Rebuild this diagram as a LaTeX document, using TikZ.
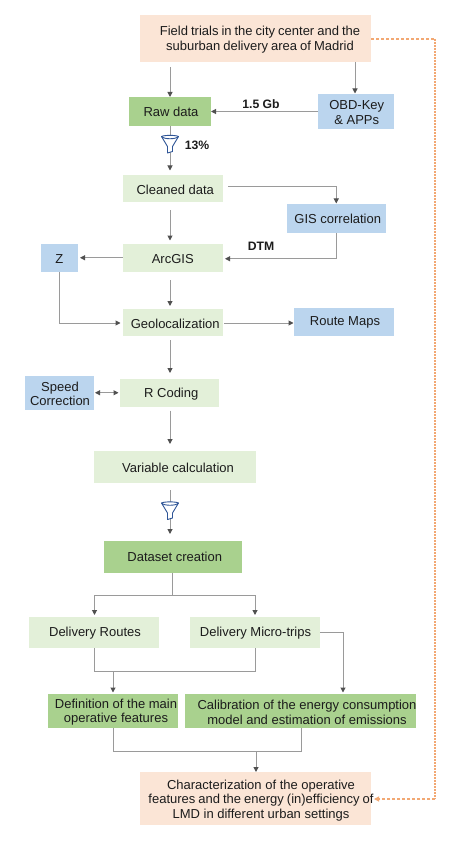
\documentclass[tikz,border=0pt]{standalone}
\usepackage{fontspec}
\setmainfont{Liberation Sans}
\usetikzlibrary{arrows.meta}
\definecolor{peach}{HTML}{FBE5D6}
\definecolor{skyb}{HTML}{BBD5EE}
\definecolor{darkg}{HTML}{A9D18E}
\definecolor{lightg}{HTML}{E3F0D9}
\definecolor{linec}{HTML}{9A9A9A}
\definecolor{tipc}{HTML}{505050}
\definecolor{txtc}{HTML}{1C1C1C}
\definecolor{orangel}{HTML}{F2A873}
\definecolor{funnelc}{HTML}{2F5597}
\tikzset{
 x=1pt,y=-1pt,
 base/.style={draw=none,inner sep=0pt,outer sep=0pt,text=txtc},
 sz/.style 2 args={minimum width=#1pt,minimum height=#2pt},
 txt/.style 2 args={label={[align=center,text=txtc,font=\fontsize{13}{14.4}\selectfont,inner sep=0pt,#1]center:{#2}}},
 pch/.style={base,fill=peach},
 blu/.style={base,fill=skyb},
 dgr/.style={base,fill=darkg},
 lgr/.style={base,fill=lightg},
 wire/.style={draw=linec,line width=1pt},
 arr/.style={wire,-{Triangle[length=5pt,width=5pt,color=tipc]}},
 dblarr/.style={wire,{Triangle[length=5pt,width=5pt,color=tipc]}-{Triangle[length=5pt,width=5pt,color=tipc]}},
 hdash/.style={draw=orangel,line width=1.1pt,dash pattern=on 3pt off 2pt},
 vdash/.style={draw=orangel,line width=1.4pt,dash pattern=on 2pt off 1pt},
 tag/.style={inner sep=0pt,text=txtc,font=\fontsize{12.2}{14}\selectfont\bfseries},
 funnelshape/.pic={
  \draw[funnelc,line width=0.9pt,line join=round,fill=white]
    (-8.5,-8) .. controls (-6,-9.5) and (6,-9.5) .. (8.5,-8) -- (2.5,2) -- (2.5,7) -- (-2.5,8.5) -- (-2.5,2) -- cycle;
  \draw[funnelc,line width=0.9pt] (-8.5,-8) .. controls (-6,-5) and (6,-5) .. (8.5,-8);
 }
}
\begin{document}
\begin{tikzpicture}
\useasboundingbox (0,0) rectangle (474,842);
\fill[white] (0,0) rectangle (474,842);
% boxes
\node[pch,sz={231}{47},txt={xshift=4.5pt,yshift=-1pt}{\spaceskip=3pt Field trials in the city center and the\\\spaceskip=3pt suburban delivery area of Madrid}] (field) at (255.5,38.5) {};
\node[dgr,sz={82}{29},txt={xshift=1pt,yshift=0pt}{Raw data}] (raw) at (170,111.5) {};
\node[blu,sz={75.5}{35},txt={xshift=1pt,yshift=-1pt}{OBD-Key\\\& APPs}] (obd) at (355.75,111.5) {};
\node[lgr,sz={100.5}{27},txt={xshift=2.5pt,yshift=-1pt}{Cleaned data}] (cleaned) at (172.75,189) {};
\node[blu,sz={99.5}{28.5},txt={xshift=1.5pt,yshift=-0.5pt}{GIS correlation}] (gis) at (336.25,218.75) {};
\node[blu,sz={37.5}{28.5},txt={yshift=-1pt}{Z}] (z) at (59.25,257.75) {};
\node[lgr,sz={100.5}{28.5},txt={yshift=-1pt}{ArcGIS}] (arc) at (172.75,257.75) {};
\node[lgr,sz={100.5}{27},txt={xshift=2.5pt,yshift=-1pt}{Geolocalization}] (geo) at (172.75,322.5) {};
\node[blu,sz={100}{28.5},txt={xshift=1.5pt,yshift=-1pt}{Route Maps}] (route) at (343.5,321.75) {};
\node[blu,sz={69}{33.5},txt={xshift=0.5pt,yshift=-1.2pt}{Speed\\Correction}] (speed) at (59.5,392.75) {};
\node[lgr,sz={99.5}{27.5},txt={xshift=2pt,yshift=-1.5pt}{R Coding}] (rcode) at (169.25,392.75) {};
\node[lgr,sz={162}{32},txt={xshift=3pt,yshift=-1pt}{Variable calculation}] (var) at (175,467) {};
\node[dgr,sz={138.5}{31.5},txt={xshift=2pt,yshift=-0.5pt}{Dataset creation}] (dataset) at (172.75,556.75) {};
\node[lgr,sz={130}{31},txt={xshift=1pt,yshift=-1pt}{Delivery Routes}] (routes) at (94,632.5) {};
\node[lgr,sz={130}{31},txt={xshift=0.5pt,yshift=-1pt}{Delivery Micro-trips}] (micro) at (255,632.5) {};
\node[dgr,sz={130}{34.5},txt={xshift=3pt,yshift=-1.5pt}{Definition of the main\\operative features}] (defn) at (113,710.75) {};
\node[dgr,sz={231}{34.5},txt={xshift=7pt,yshift=-1.5pt}{Calibration of the energy consumption\\model and estimation of emissions}] (calib) at (300,710.75) {};
\node[pch,sz={231}{53},txt={xshift=5.5pt,yshift=-2pt}{Characterization of the operative\\\spaceskip=3pt features and the energy (in)efficiency of\\LMD in different urban settings}] (charz) at (255.5,798.5) {};
% funnels
\coordinate (fa) at (170,144.5);
\coordinate (fb) at (170,511);
% connectors
\draw[arr,shorten <=5.5pt] (field.south -| raw.center) -- (raw.north);
\draw[arr] ([xshift=-0.75pt]field.south -| obd.north) -- ([xshift=-0.75pt,yshift=0.5pt]obd.north);
\draw[arr] ([yshift=0pt]obd.west) -- (raw.east);
\draw[wire] (raw.south) -- (fa);
\draw[arr] (fa) -- ([yshift=5pt]fa |- cleaned.north);
\draw[arr,shorten <=5pt] (cleaned.east |- 0,187) -| ([yshift=1pt]gis.north);
\draw[arr,shorten <=8pt] (fa |- cleaned.south) -- ([yshift=3pt]fa |- arc.north);
\draw[arr] (gis.south) |- ([xshift=2pt,yshift=-1pt]arc.east);
\draw[arr] (arc.west) -- ([xshift=2pt]z.east);
\draw[arr] (z.south) |- ([xshift=-2pt]geo.west |- 0,323);
\draw[arr,shorten <=8pt] (fa |- arc.south) -- ([yshift=3pt]fa |- geo.north);
\draw[arr,shorten <=1pt] (geo.east |- 0,323) -- (route.west |- 0,323);
\draw[arr,shorten <=4pt] (fa |- geo.south) -- ([yshift=6pt]fa |- rcode.north);
\draw[dblarr] ([xshift=1pt]speed.east) -- ([xshift=-1pt]rcode.west);
\draw[arr,shorten <=4pt] (fa |- rcode.south) -- ([yshift=7pt]fa |- var.north);
\draw[wire,shorten <=7pt] (fa |- var.south) -- (fb);
\draw[arr] (fb) -- ([yshift=7pt]fb |- dataset.north);
\coordinate (split) at (172.75,595);
\draw[wire,line width=1.4pt] (dataset.south) -- (split);
\draw[arr] (split) -| ([yshift=2pt,xshift=0.5pt]routes.north);
\draw[arr] (split) -| ([yshift=2pt]micro.north);
\coordinate (mergeA) at (113,671);
\draw[wire] ([xshift=0.5pt]routes.south) |- (mergeA);
\draw[wire] (micro.south) |- (mergeA);
\draw[arr] (mergeA) -- ([yshift=1pt]defn.north);
\draw[arr,shorten <=0pt] (micro.east) -| ([xshift=43pt,yshift=1pt]calib.north);
\coordinate (mergeB) at (256,751);
\draw[wire] (defn.south) |- (mergeB);
\draw[wire] ([xshift=1pt]calib.south) |- (mergeB);
\draw[arr] (mergeB) -- ([xshift=0.5pt,yshift=0pt]charz.north);
\coordinate (rail) at (435,39);
\draw[hdash] (field.east |- rail) -- (rail);
\draw[vdash] (rail) -- (rail |- 0,799);
\draw[hdash,-{Triangle[length=5pt,width=5pt,color=orangel]}] (rail |- 0,799) -- ([xshift=3pt]charz.east |- 0,799);
% funnels on top
\path (fa) pic {funnelshape};
\path (fb) pic {funnelshape};
% labels
\node[tag] (lgb) at (261,104) {1.5 Gb};
\node[tag] (lpc) at (197,145.5) {13\%};
\node[tag] (ldtm) at (261,246.5) {DTM};
\end{tikzpicture}
\end{document}
